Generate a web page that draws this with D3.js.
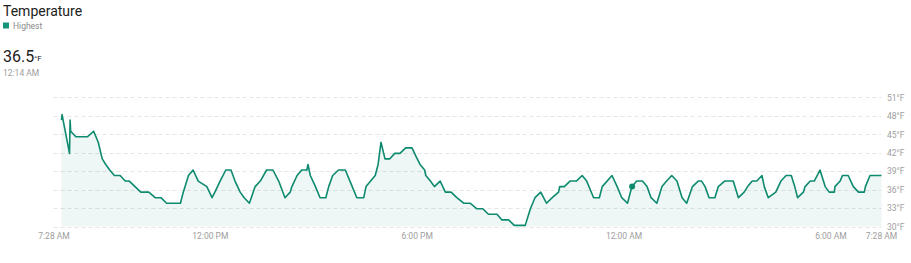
<!DOCTYPE html>
<html>
<head>
<meta charset="utf-8">
<script src="https://cdn.jsdelivr.net/npm/d3@7"></script>
<style>
  html, body { margin: 0; padding: 0; background: #fff; }
  svg { display: block; font-family: Roboto, "Noto Sans", sans-serif; }
</style>
</head>
<body>
<svg id="chart" width="911" height="263"></svg>
<script>
// ---- data ----
const title = "Temperature";
const seriesName = "Highest";
const currentValue = "36.5";
const currentUnit = "°F";
const currentTimeLabel = "12:14 AM";
const currentTime = "00:14";
const currentPointValue = 36.5;

const startTime = "07:28";
const times = [
  "07:41","07:42","07:55","07:56","07:57","08:06","08:26","08:37","08:45","08:52",
  "08:58","09:05","09:13","09:23","09:32","09:39","09:49","09:59","10:13","10:24",
  "10:34","10:44","11:08","11:13","11:22","11:30","11:39","11:54","12:03","12:08",
  "12:17","12:27","12:36","12:43","12:52","12:59","13:08","13:18","13:27","13:38",
  "13:49","13:59","14:10","14:19","14:22","14:31","14:39","14:48","14:50","14:54",
  "15:03","15:11","15:21","15:26","15:33","15:43","15:55","16:03","16:15","16:27",
  "16:31","16:47","16:52","16:57","17:04","17:12","17:21","17:30","17:40","17:51",
  "17:58","18:05","18:13","18:15","18:23","18:30","18:40","18:49","18:59","19:09",
  "19:21","19:32","19:44","19:54","20:04","20:19","20:27","20:39","20:49","21:08",
  "21:17","21:25","21:35","21:45","21:55","22:06","22:08","22:16","22:26","22:37",
  "22:47","22:55","23:07","23:17","23:22","23:39","23:48","23:56","00:06","00:11",
  "00:14","00:22","00:32","00:40","00:47","00:57","01:06","01:14","01:23","01:32",
  "01:41","01:49","01:59","02:09","02:15","02:21","02:28","02:38","02:44","02:55",
  "03:10","03:19","03:29","03:35","03:43","03:51","04:00","04:04","04:11","04:24",
  "04:33","04:42","04:51","04:57","05:02","05:12","05:15","05:24","05:31","05:41",
  "05:50","05:57","06:06","06:07","06:16","06:20","06:30","06:39","06:48","06:58",
  "07:00","07:08","07:28"
];
const values = [
  47.3,48.2,41.9,47.3,45.5,44.6,44.6,45.5,43.7,41.0,
  40.1,39.2,38.3,38.3,37.4,37.4,36.5,35.6,35.6,34.7,
  34.7,33.8,33.8,35.6,38.3,39.2,37.4,36.5,34.7,35.6,
  37.4,39.2,39.2,37.4,35.6,34.7,33.8,36.5,37.4,39.2,
  39.2,37.4,34.7,35.6,36.5,38.3,39.2,39.2,40.1,38.3,
  36.5,34.7,34.7,36.5,38.3,39.2,39.2,37.4,34.7,34.7,
  36.5,38.3,40.1,43.7,41.0,41.0,41.9,41.9,42.8,42.8,
  41.4,40.1,39.2,38.3,37.4,36.5,37.4,35.6,35.6,34.7,
  33.8,33.8,32.9,32.9,32.0,32.0,31.1,31.1,30.2,30.2,
  32.9,34.7,35.6,33.8,34.7,35.6,36.5,36.5,37.4,37.4,
  38.3,37.4,34.7,34.7,36.5,38.3,36.5,34.7,33.8,35.6,
  36.5,37.4,37.4,36.5,34.7,33.8,36.5,37.4,38.3,37.4,
  34.7,33.8,36.5,37.4,37.4,36.5,34.7,34.7,36.5,37.4,
  37.4,34.7,35.6,36.5,37.4,37.4,38.3,36.5,34.7,35.6,
  37.4,38.3,38.3,36.5,34.7,35.6,36.5,37.4,37.4,39.2,
  36.5,35.6,35.6,36.5,37.4,38.3,38.3,36.5,35.6,35.6,
  36.5,38.3,38.3
];
const yTicks = [30, 33, 36, 39, 42, 45, 48, 51];
const xTickTimes = ["07:28","12:00","18:00","00:00","06:00","07:28"];
const xTickLabels = ["7:28 AM","12:00 PM","6:00 PM","12:00 AM","6:00 AM","7:28 AM"];

// ---- helpers ----
const day0 = "2024-01-01", day1 = "2024-01-02";
const parse = d3.timeParse("%Y-%m-%d %H:%M");
// assign dates in sequence: roll over to next day when clock goes backwards
function toDates(list) {
  let day = day0, prev = -1;
  return list.map(s => {
    const [h, m] = s.split(":").map(Number);
    const mins = h * 60 + m;
    if (mins < prev) day = day1;
    prev = mins;
    return parse(day + " " + s);
  });
}
const dates = toDates(times);
const data = dates.map((d, i) => ({ t: d, v: values[i] }));
const xStart = parse(day0 + " " + startTime);
const xEnd = parse(day1 + " " + startTime);
const tickDates = toDates(xTickTimes);
const curDate = parse(day1 + " " + currentTime);

// ---- layout ----
const svg = d3.select("#chart");
const x = d3.scaleTime().domain([xStart, xEnd]).range([54, 881.5]);
const y = d3.scaleLinear().domain([30, 51]).range([226.6, 97.4]);

const textGray = "#9e9e9e";
const lineColor = "#0e8a6f";

// header
svg.append("text").attr("x", 3).attr("y", 16).attr("font-size", 14).attr("fill", "#212121").text(title);
svg.append("rect").attr("x", 3).attr("y", 22.5).attr("width", 6).attr("height", 6).attr("fill", "#13937a");
svg.append("text").attr("x", 13).attr("y", 28.5).attr("font-size", 8.5).attr("fill", "#8a8a8a").text(seriesName);
const cur = svg.append("text").attr("x", 3).attr("y", 62).attr("fill", "#212121");
cur.append("tspan").attr("font-size", 16).text(currentValue);
cur.append("tspan").attr("font-size", 8).attr("dy", -1).text(currentUnit);
svg.append("text").attr("x", 3).attr("y", 76).attr("font-size", 8.5).attr("fill", textGray).text(currentTimeLabel);

// grid
svg.append("g").selectAll("line").data(yTicks).join("line")
  .attr("x1", 53.5).attr("x2", 881.5)
  .attr("y1", d => Math.round(y(d)) + 0.5).attr("y2", d => Math.round(y(d)) + 0.5)
  .attr("stroke", "#e6e6e6").attr("stroke-width", 1).attr("stroke-dasharray", "4,3");

// y labels (right)
svg.append("g").selectAll("text").data(yTicks).join("text")
  .attr("x", 887).attr("y", d => y(d) + 3.2)
  .attr("font-size", 8.5).attr("fill", textGray)
  .text(d => d + "°F");

// x labels
svg.append("g").selectAll("text").data(tickDates).join("text")
  .attr("x", d => x(d)).attr("y", 238.5)
  .attr("text-anchor", "middle")
  .attr("font-size", 8.5).attr("fill", textGray)
  .text((d, i) => xTickLabels[i]);

// area + line
const area = d3.area().x(d => x(d.t)).y0(y(30)).y1(d => y(d.v));
svg.append("path").datum(data).attr("d", area).attr("fill", "#13937a").attr("fill-opacity", 0.07);
const line = d3.line().x(d => x(d.t)).y(d => y(d.v));
svg.append("path").datum(data).attr("d", line)
  .attr("fill", "none").attr("stroke", lineColor).attr("stroke-width", 1.6)
  .attr("stroke-linejoin", "round");

// current marker
svg.append("circle").attr("cx", x(curDate)).attr("cy", y(currentPointValue)).attr("r", 3)
  .attr("fill", lineColor);
</script>
</body>
</html>
